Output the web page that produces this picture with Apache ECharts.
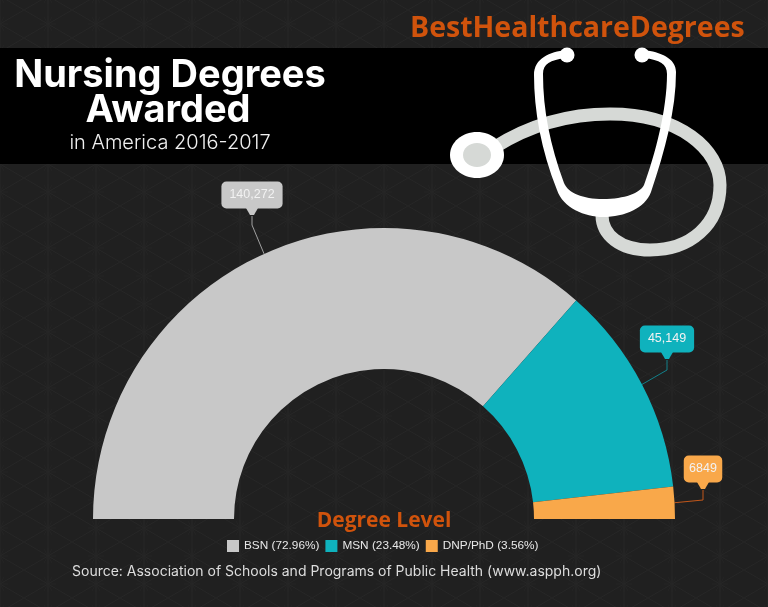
<!DOCTYPE html>
<html>
<head>
<meta charset="utf-8">
<style>html,body{margin:0;padding:0;background:#202020}#c{width:768px;height:607px}</style>
<script src="https://cdn.jsdelivr.net/npm/echarts@6/dist/echarts.min.js"></script>
</head>
<body>
<div id="c"></div>
<script>
const categories = ['BSN', 'MSN', 'DNP/PhD'];
const degrees = [140272, 45149, 6849];
const shares = ['72.96%', '23.48%', '3.56%'];
const valueLabels = ['140,272', '45,149', '6849'];
const colors = ['#c8c8c8', '#0fb2bd', '#f9a84a'];
const leaderColors = ['#a0a0a0', '#12808a', '#c2571a'];

// label box centres and leader elbows
const labelAt = [[252, 195], [667, 339], [703, 469]];
const elbowAt = [[252, 225], [667, 370], [703, 500]];
const tipAt = [[252, 216], [667, 360], [703, 490]];

function tile() {
  const w = 48, h = 28, cv = document.createElement('canvas');
  cv.width = w; cv.height = h;
  const g = cv.getContext('2d');
  g.fillStyle = '#202020'; g.fillRect(0, 0, w, h);
  const oy = 24;
  g.lineWidth = 1;
  for (let i = -1; i <= 2; i++) for (let j = -2; j <= 2; j++) {
    const cx = i * w, cy = oy + j * h;
    g.strokeStyle = '#252525';
    for (let a = 0; a < 12; a++) {
      const t = a * Math.PI / 6;
      g.beginPath(); g.moveTo(cx, cy);
      g.lineTo(cx + Math.cos(t) * 8, cy + Math.sin(t) * 8); g.stroke();
    }
    g.strokeStyle = '#272727';
    g.beginPath();
    g.moveTo(cx - 24, cy - 14); g.lineTo(cx + 24, cy + 14);
    g.moveTo(cx - 24, cy + 14); g.lineTo(cx + 24, cy - 14);
    g.moveTo(cx, cy - 14); g.lineTo(cx, cy + 14);
    g.stroke();
  }
  return cv;
}

function pointer(i) {
  const t = tipAt[i];
  return {
    type: 'polygon', z: 20, silent: true,
    shape: { points: [[t[0] - 6, t[1] - 8], [t[0] + 6, t[1] - 8], [t[0] + 2, t[1] - 1], [t[0] - 2, t[1] - 1]] },
    style: { fill: colors[i] }
  };
}

echarts.graphic.registerShape('scopeTube', echarts.graphic.extendPath(
  'M 495 147 C 530 125 570 114 610 114 C 680 114 720 150 720 185 C 720 225 690 250 650 250 C 620 250 602 235 602 215', {}));
echarts.graphic.registerShape('scopeFork', echarts.graphic.extendPath(
  'M 566 50 C 550 52 534 58 534 75 C 534 110 541 150 557 190 C 563 208 585 217 603 217 C 625 217 645 208 651 192 C 665 150 676 110 676 72 C 676 58 660 52 644 50 L 644 58 C 660 60 667 64 667 74 C 667 110 655 155 644 185 C 640 193 625 199 603 199 C 583 199 568 193 564 183 C 550 145 543 110 543 74 C 543 64 550 60 566 58 Z', {}));

const chart = echarts.init(document.getElementById('c'), null, { renderer: 'canvas' });
const bodyFont = 'Inter';
const tube = '#d6d9d6';
chart.setOption({
  animation: false,
  backgroundColor: { image: tile(), repeat: 'repeat' },
  title: [
    { text: 'BestHealthcareDegrees', left: 410, top: 14, padding: 0,
      textStyle: { color: '#d0530c', fontFamily: 'Open Sans', fontWeight: 700, fontSize: 28.5 } },
    { text: 'Nursing Degrees', left: 170, textAlign: 'center', top: 57, padding: 0,
      textStyle: { color: '#fff', fontFamily: bodyFont, fontWeight: 700, fontSize: 38 } },
    { text: 'Awarded', left: 168, textAlign: 'center', top: 92, padding: 0,
      textStyle: { color: '#fff', fontFamily: bodyFont, fontWeight: 700, fontSize: 38 } },
    { text: 'in America 2016-2017', left: 170, textAlign: 'center', top: 133, padding: 0,
      textStyle: { color: '#f0f0f0', fontFamily: bodyFont, fontWeight: 300, fontSize: 20 } },
    { text: 'Degree Level', left: 384, textAlign: 'center', top: 511, padding: 0,
      textStyle: { color: '#d0530c', fontFamily: 'Open Sans', fontWeight: 700, fontSize: 21 } },
    { text: 'Source: Association of Schools and Programs of Public Health (www.aspph.org)', left: 72, top: 565, padding: 0,
      textStyle: { color: '#dddddd', fontFamily: bodyFont, fontWeight: 400, fontSize: 14 } }
  ],
  legend: {
    left: 227, top: 540, padding: 0, itemWidth: 12, itemHeight: 12, itemGap: 6,
    icon: 'rect', selectedMode: false,
    data: categories,
    formatter: n => n + ' (' + shares[categories.indexOf(n)] + ')',
    textStyle: { color: '#e8e8e8', fontFamily: 'Liberation Sans', fontSize: 11.8 }
  },
  graphic: [
    { type: 'rect', z: -10, silent: true, shape: { x: 0, y: 48, width: 768, height: 116 }, style: { fill: '#000' } },
    { type: 'scopeTube', z: 10, silent: true, style: { fill: 'none', stroke: tube, lineWidth: 13 } },
    { type: 'ellipse', z: 11, silent: true, shape: { cx: 477, cy: 155, rx: 27, ry: 23 }, style: { fill: '#fff' } },
    { type: 'ellipse', z: 12, silent: true, shape: { cx: 477, cy: 155, rx: 14, ry: 12 }, style: { fill: tube } },
    { type: 'scopeFork', z: 13, silent: true, style: { fill: '#fff' } },
    { type: 'circle', z: 14, silent: true, shape: { cx: 567, cy: 55, r: 7.5 }, style: { fill: '#fff' } },
    { type: 'circle', z: 14, silent: true, shape: { cx: 642, cy: 55, r: 7.5 }, style: { fill: '#fff' } },
    pointer(0), pointer(1), pointer(2)
  ],
  series: [{
    type: 'pie',
    center: [384, 519],
    radius: [150, 291],
    startAngle: 180,
    endAngle: 0,
    silent: true,
    z: 5,
    label: {
      show: true,
      position: 'outside',
      color: '#f2f2f2',
      fontFamily: 'Liberation Sans',
      fontSize: 12.5,
      padding: [7, 8],
      borderRadius: 5,
      overflow: 'none',
      formatter: p => valueLabels[p.dataIndex]
    },
    labelLine: { show: true, length: 20, length2: 20, lineStyle: { width: 1 } },
    labelLayout: p => ({
      x: labelAt[p.dataIndex][0],
      y: labelAt[p.dataIndex][1],
      align: 'center',
      verticalAlign: 'middle',
      labelLinePoints: [p.labelLinePoints[0], elbowAt[p.dataIndex], tipAt[p.dataIndex]]
    }),
    data: categories.map((name, i) => ({
      name,
      value: degrees[i],
      itemStyle: { color: colors[i] },
      label: { backgroundColor: colors[i] },
      labelLine: { lineStyle: { color: leaderColors[i] } }
    }))
  }]
});
</script>
</body>
</html>
